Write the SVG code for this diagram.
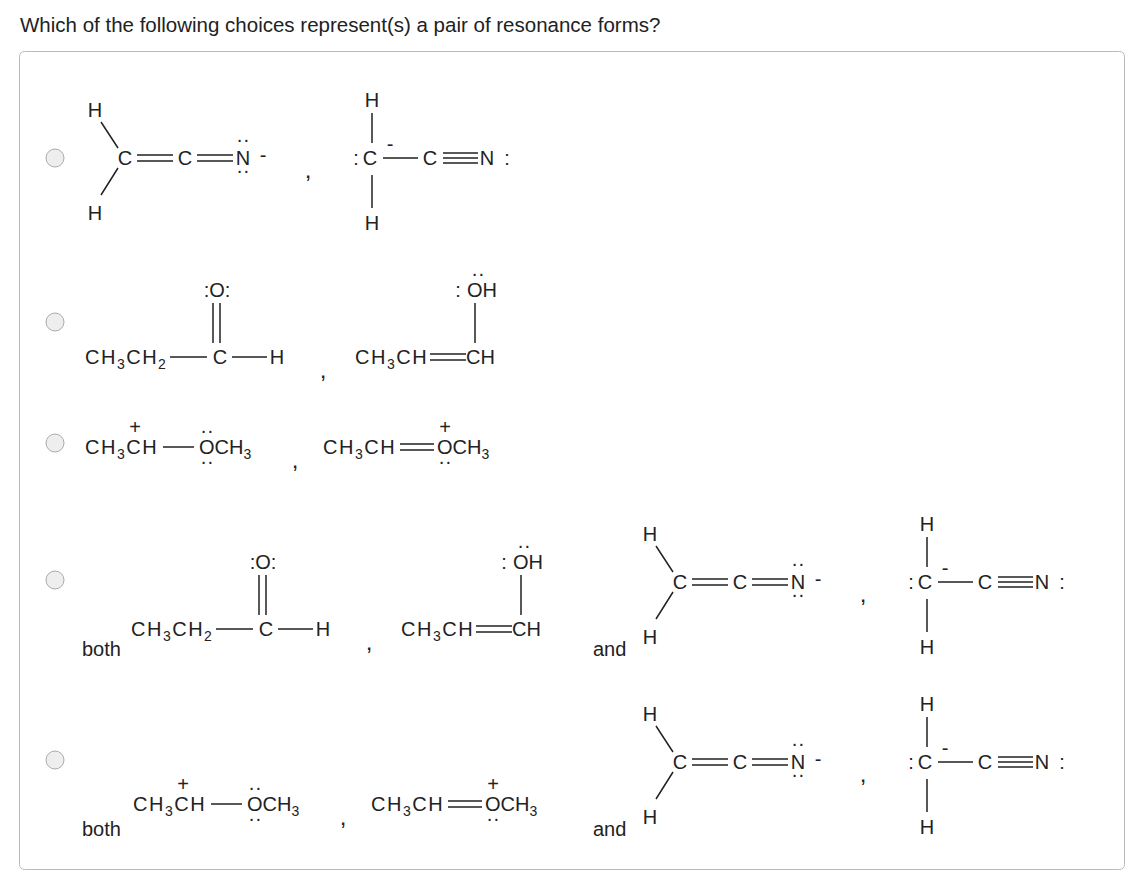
<svg xmlns="http://www.w3.org/2000/svg" width="1134" height="878" viewBox="0 0 1134 878">
<style>
text{font-family:"Liberation Sans",Arial,sans-serif;fill:#222}
.m{font-size:20px}
.f{letter-spacing:1.5px}
.c{font-size:24px}
.s{font-size:14px}
.l{stroke:#222;stroke-width:1.5;fill:none}
.r{fill:#eee;stroke:#aaa;stroke-width:1}
</style>
<defs>
<g id="allene">
<text class="m" x="95" y="117" text-anchor="middle">H</text>
<text class="m" x="95" y="220" text-anchor="middle">H</text>
<path class="l" d="M101 122L118 148M118 168L101 195"/>
<text class="m" x="125" y="165" text-anchor="middle">C</text>
<path class="l" d="M137 155H173M137 161H173"/>
<text class="m" x="185" y="165" text-anchor="middle">C</text>
<path class="l" d="M197 155H233M197 161H233"/>
<text class="m" x="243" y="165" text-anchor="middle">N</text>
<text class="m" x="263" y="162" text-anchor="middle">-</text>
<text class="m" x="243" y="146" text-anchor="middle">··</text>
<text class="m" x="243" y="177" text-anchor="middle">··</text>
<text class="c" x="308" y="178" text-anchor="middle">,</text>
<text class="m" x="356" y="165" text-anchor="middle">:</text>
<text class="m" x="370" y="165" text-anchor="middle">C</text>
<text class="m" x="390" y="151" text-anchor="middle">-</text>
<text class="m" x="372" y="107" text-anchor="middle">H</text>
<text class="m" x="372" y="230" text-anchor="middle">H</text>
<path class="l" d="M372 113V143M372 175V208M383 158H418"/>
<text class="m" x="430" y="165" text-anchor="middle">C</text>
<path class="l" d="M443 153H478M443 158H478M443 163H478"/>
<text class="m" x="487" y="165" text-anchor="middle">N</text>
<text class="m" x="507" y="165" text-anchor="middle">:</text>
</g>
<g id="carbonyl">
<text class="m f" x="85" y="364">CH<tspan class="s" dy="5">3</tspan><tspan dy="-5">CH</tspan><tspan class="s" dy="5">2</tspan></text>
<path class="l" d="M170 357H207M232 357H267M213 303V343M220 303V343"/>
<text class="m" x="220" y="364" text-anchor="middle">C</text>
<text class="m" x="277" y="364" text-anchor="middle">H</text>
<text class="m" x="217" y="297" text-anchor="middle">:O:</text>
<text class="c" x="323" y="378" text-anchor="middle">,</text>
<text class="m f" x="355" y="364">CH<tspan class="s" dy="5">3</tspan><tspan dy="-5">CH</tspan></text>
<path class="l" d="M430 354H466M430 360H466M475 303V343"/>
<text class="m" x="466" y="364">CH</text>
<text class="m" x="458" y="297" text-anchor="middle">:</text>
<text class="m" x="467" y="297">OH</text>
<text class="m" x="478" y="280" text-anchor="middle">··</text>
</g>
<g id="ether">
<text class="m f" x="85" y="454">CH<tspan class="s" dy="5">3</tspan><tspan dy="-5">CH</tspan></text>
<text class="m" x="135" y="434" text-anchor="middle">+</text>
<path class="l" d="M163 447H194"/>
<text class="m" x="199" y="454">OCH<tspan class="s" dy="5">3</tspan></text>
<text class="m" x="207" y="437" text-anchor="middle">··</text>
<text class="m" x="207" y="468" text-anchor="middle">··</text>
<text class="c" x="295" y="468" text-anchor="middle">,</text>
<text class="m f" x="323" y="454">CH<tspan class="s" dy="5">3</tspan><tspan dy="-5">CH</tspan></text>
<path class="l" d="M400 444H434M400 450H434"/>
<text class="m" x="437" y="454">OCH<tspan class="s" dy="5">3</tspan></text>
<text class="m" x="445" y="434" text-anchor="middle">+</text>
<text class="m" x="445" y="468" text-anchor="middle">··</text>
</g>
</defs>
<text x="20" y="32" style="font-size:20.5px">Which of the following choices represent(s) a pair of resonance forms?</text>
<rect x="19.5" y="51.5" width="1105" height="818" rx="5" fill="#fff" stroke="#bbb"/>
<g id="option1"><circle class="r" cx="55" cy="158" r="9"/><use href="#allene"/></g>
<g id="option2"><circle class="r" cx="55" cy="322" r="9"/><use href="#carbonyl"/></g>
<g id="option3"><circle class="r" cx="55" cy="443" r="9"/><use href="#ether"/></g>
<g id="option4"><circle class="r" cx="55" cy="580" r="9"/>
<text x="82" y="656" class="m">both</text>
<use href="#carbonyl" transform="translate(46 272)"/>
<text x="593" y="656" class="m">and</text>
<use href="#allene" transform="translate(555 424)"/></g>
<g id="option5"><circle class="r" cx="55" cy="760" r="9"/>
<text x="82" y="836" class="m">both</text>
<use href="#ether" transform="translate(48 357)"/>
<text x="593" y="836" class="m">and</text>
<use href="#allene" transform="translate(555 604)"/></g>
<g id="connectors"/>
</svg>
